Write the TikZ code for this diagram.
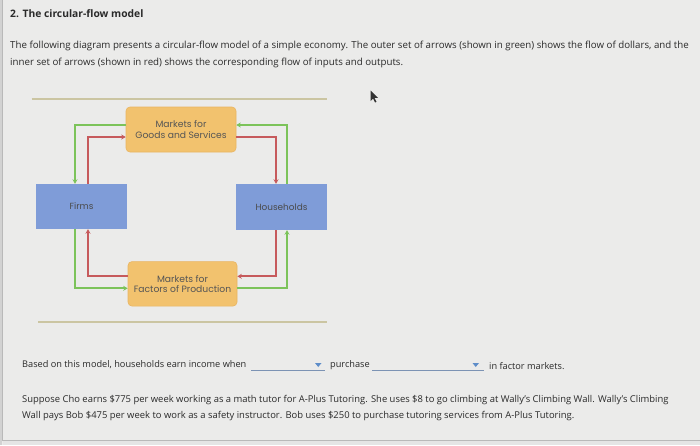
\documentclass[tikz,border=0pt]{standalone}
\usepackage{fontspec}
\setmainfont{Open Sans}
\newfontfamily\boxfont{Poppins}
\usetikzlibrary{arrows.meta}
\definecolor{bgc}{HTML}{EBEBEA}
\definecolor{txt}{HTML}{2A2A2A}
\definecolor{orangebox}{HTML}{F2C26E}
\definecolor{orangeedge}{HTML}{E9B562}
\definecolor{bluebox}{HTML}{7F9CD8}
\definecolor{gflowc}{HTML}{7CC35A}
\definecolor{rflowc}{HTML}{C65A5C}
\definecolor{barc}{HTML}{CBC5A2}
\definecolor{ddc}{HTML}{7C93B4}
\definecolor{ddtri}{HTML}{5E8DC9}
\tikzset{
  market/.style={draw=orangeedge, fill=orangebox, rounded corners=4pt, line width=0.6pt,
    align=center, font=\boxfont\fontsize{9.2}{10.5}\selectfont, text=txt!80, inner sep=0pt},
  agent/.style={fill=bluebox, align=center, font=\boxfont\fontsize{8.9}{10}\selectfont, text=txt!85, inner sep=0pt},
  gflow/.style={draw=gflowc, line width=1.8pt, -{Stealth[length=4.5pt,width=5pt]}},
  rflow/.style={draw=rflowc, line width=1.8pt, -{Stealth[length=4.5pt,width=5pt]}},
  bar/.style={draw=barc, line width=2pt},
  body/.style={anchor=west, text=txt, font=\fontsize{9.72}{11}\selectfont, inner sep=0pt},
  lower/.style={anchor=west, text=txt, font=\fontsize{9.42}{11}\selectfont, inner sep=0pt},
  ddline/.style={draw=ddc, line width=0.8pt},
}
\begin{document}
\begin{tikzpicture}[x=1pt,y=-1pt]
\useasboundingbox (0,0) rectangle (700,445);
\fill[bgc] (0,0) rectangle (700,445);
\fill[gray!35] (0,0) rectangle (2,445);
\draw[gray!55, line width=1pt] (2.5,0) -- (2.5,440) -- (700,440);
\fill[gray!20] (3,440.5) rectangle (700,445);

% texts
\node[body, font=\bfseries\fontsize{10.3}{12}\selectfont] (title) at (10,14) {2. The circular-flow model};
\node[body] (p1) at (10,46) {The following diagram presents a circular-flow model of a simple economy. The outer set of arrows (shown in green) shows the flow of dollars, and the};
\node[body] (p2) at (10,63) {inner set of arrows (shown in red) shows the corresponding flow of inputs and outputs.};

% bars
\coordinate (tb1) at (31.5,99); \coordinate (tb2) at (327,99);
\coordinate (bb1) at (38,321.5); \coordinate (bb2) at (327,321.5);
\draw[bar] (tb1) -- (tb2);
\draw[bar] (bb1) -- (bb2);

% boxes
\node[market, minimum width=110pt, minimum height=45pt] (goods) at (181,129.5) {Markets for\\Goods and Services};
\node[market, minimum width=109pt, minimum height=44.5pt] (factors) at (182.5,283.8) {Markets for\\Factors of Production};
\node[agent, minimum width=91pt, minimum height=45pt] (firms) at (81.5,206.5) {Firms};
\node[agent, minimum width=91pt, minimum height=46pt] (house) at (281.5,207) {Households};

% flows
\draw[gflow] ([yshift=4.5pt]goods.west) -| ([xshift=-6.5pt]firms.north);
\draw[rflow] ([xshift=6.5pt]firms.north) |- ([yshift=-7.5pt]goods.west);
\draw[gflow] ([xshift=5.5pt]house.north) |- ([yshift=4.5pt]goods.east);
\draw[rflow] ([yshift=-7.5pt]goods.east) -| ([xshift=-5.5pt]house.north);
\draw[rflow] ([yshift=7.5pt]factors.west) -| ([xshift=6.5pt]firms.south);
\draw[gflow] ([xshift=-6.5pt]firms.south) |- ([yshift=-4.5pt]factors.west);
\draw[rflow] ([xshift=-5.5pt]house.south) |- ([yshift=7.5pt]factors.east);
\draw[gflow] ([yshift=-4.5pt]factors.east) -| ([xshift=5.5pt]house.south);

% cursor
\fill[black!80] (370.5,90.5) -- (370.5,101) -- (373,98.5) -- (375,102.5) -- (376.5,101.8) -- (374.5,97.8) -- (378,97.8) -- cycle;

% question line
\node[lower, font=\fontsize{9.2}{11}\selectfont] (q1) at (22,365) {Based on this model, households earn income when};
\coordinate (d1a) at (251,370); \coordinate (d1b) at (325,370);
\draw[ddline] (d1a) -- (d1b);
\fill[ddtri] (315,363) -- (321.5,363) -- (318.25,367) -- cycle;
\node[lower, font=\fontsize{9.2}{11}\selectfont] (q2) at (330,365) {purchase};
\coordinate (d2a) at (372,370); \coordinate (d2b) at (484,370);
\draw[ddline] (d2a) -- (d2b);
\fill[ddtri] (472.5,363) -- (479,363) -- (475.75,367) -- cycle;
\node[lower, font=\fontsize{9.2}{11}\selectfont] (q3) at (489,366) {in factor markets.};

\node[lower] (s1) at (22,400) {Suppose Cho earns \$775 per week working as a math tutor for A-Plus Tutoring. She uses \$8 to go climbing at Wally's Climbing Wall. Wally's Climbing};
\node[lower] (s2) at (22,416) {Wall pays Bob \$475 per week to work as a safety instructor. Bob uses \$250 to purchase tutoring services from A-Plus Tutoring.};
\end{tikzpicture}
\end{document}
